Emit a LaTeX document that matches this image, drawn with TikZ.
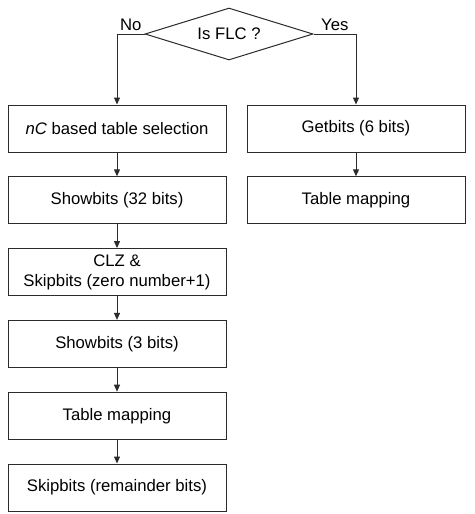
\documentclass[tikz,border=0pt]{standalone}
\usepackage{fontspec}
\setmainfont{Liberation Sans}
\usepackage{tikz}
\usetikzlibrary{shapes.geometric, arrows.meta, positioning}
\definecolor{flowline}{HTML}{2B2B2B}

\begin{document}
\begin{tikzpicture}[
    node distance=23.8pt and 20pt,
    every node/.style={font=\fontsize{16.7}{20}\selectfont, text=black},
    stepbox/.style={draw=flowline, line width=1pt, minimum width=218pt, minimum height=47pt, inner sep=2pt, align=center},
    test/.style={draw=flowline, line width=1pt, diamond, aspect=3.2, minimum width=168pt, minimum height=52pt, inner sep=0pt, align=center},
    arrow/.style={-{Triangle[length=7pt, width=6pt]}, draw=flowline, line width=1pt}
]
    \useasboundingbox (0,0) rectangle (474pt,-514pt);

    % Decision
    \node[test] (flc) at (229pt,-34pt) {Is FLC ?};

    % No branch
    \node[stepbox] (sel) at (117pt,-128.5pt) {\textit{nC} based table selection};
    \node[stepbox, below=of sel] (show32) {Showbits (32 bits)};
    \node[stepbox, below=of show32] (clz) {CLZ \&\\Skipbits (zero number+1)};
    \node[stepbox, below=of clz] (show3) {Showbits (3 bits)};
    \node[stepbox, below=of show3] (mapno) {Table mapping};
    \node[stepbox, below=of mapno] (skip) {Skipbits (remainder bits)};

    % Yes branch
    \node[stepbox, right=of sel] (get) {Getbits (6 bits)};
    \node[stepbox, below=of get] (mapyes) {Table mapping};

    % Arrows
    \draw[arrow] (flc.west) -| node[pos=0.25, above] {No} (sel);
    \draw[arrow] (flc.east) -| node[pos=0.25, above] {Yes} (get);
    \draw[arrow] (sel) -- (show32);
    \draw[arrow] (show32) -- (clz);
    \draw[arrow] (clz) -- (show3);
    \draw[arrow] (show3) -- (mapno);
    \draw[arrow] (mapno) -- (skip);
    \draw[arrow] (get) -- (mapyes);
\end{tikzpicture}
\end{document}
